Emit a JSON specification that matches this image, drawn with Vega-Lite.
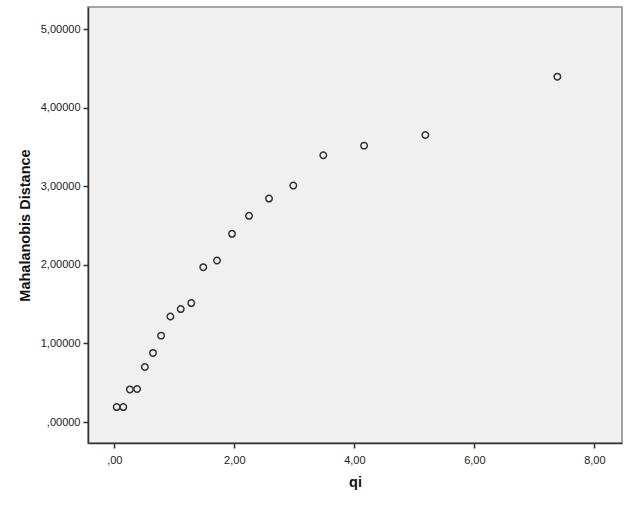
{
  "$schema": "https://vega.github.io/schema/vega-lite/v6.json",
  "width": 534,
  "height": 436,
  "autosize": {"type": "none"},
  "padding": {"left": 88, "top": 7, "right": 9, "bottom": 63},
  "background": "white",
  "data": {
    "values": [
      {"qi": 0.04, "md": 0.19},
      {"qi": 0.15, "md": 0.19},
      {"qi": 0.26, "md": 0.415},
      {"qi": 0.38, "md": 0.42},
      {"qi": 0.51, "md": 0.70},
      {"qi": 0.645, "md": 0.88},
      {"qi": 0.78, "md": 1.10},
      {"qi": 0.935, "md": 1.344},
      {"qi": 1.107, "md": 1.438},
      {"qi": 1.283, "md": 1.514},
      {"qi": 1.483, "md": 1.972},
      {"qi": 1.712, "md": 2.056},
      {"qi": 1.962, "md": 2.396},
      {"qi": 2.245, "md": 2.625},
      {"qi": 2.578, "md": 2.845},
      {"qi": 2.983, "md": 3.010},
      {"qi": 3.483, "md": 3.397},
      {"qi": 4.162, "md": 3.519},
      {"qi": 5.183, "md": 3.655},
      {"qi": 7.383, "md": 4.397}
    ]
  },
  "mark": {"type": "point", "shape": "circle", "filled": false, "stroke": "#333333", "strokeWidth": 1.5, "size": 42, "opacity": 1},
  "encoding": {
    "x": {
      "field": "qi",
      "type": "quantitative",
      "title": "qi",
      "scale": {"domain": [-0.438, 8.46], "nice": false, "zero": false},
      "axis": {
        "values": [0, 2, 4, 6, 8],
        "labelExpr": "datum.value == 0 ? ',00' : replace(format(datum.value, '.2f'), '.', ',')",
        "grid": false
      }
    },
    "y": {
      "field": "md",
      "type": "quantitative",
      "title": "Mahalanobis Distance",
      "scale": {"domain": [-0.267, 5.284], "nice": false, "zero": false},
      "axis": {
        "values": [0, 1, 2, 3, 4, 5],
        "labelExpr": "datum.value == 0 ? ',00000' : replace(format(datum.value, '.5f'), '.', ',')",
        "grid": false,
        "titlePadding": 8
      }
    }
  },
  "config": {
    "font": "Liberation Sans",
    "view": {"fill": "#f0f0f0", "stroke": "#8a8a8a", "strokeWidth": 1.5},
    "axis": {
      "domainColor": "#333333",
      "domainWidth": 1.5,
      "tickColor": "#333333",
      "tickSize": 5,
      "tickWidth": 1.5,
      "labelFont": "Liberation Sans",
      "labelFontSize": 11,
      "labelColor": "#222222",
      "titleFont": "Liberation Sans",
      "titleFontSize": 14.5,
      "titleFontWeight": "bold",
      "titleColor": "#111111",
      "labelPadding": 3
    },
    "axisX": {"titlePadding": 10, "labelPadding": 6}
  }
}
